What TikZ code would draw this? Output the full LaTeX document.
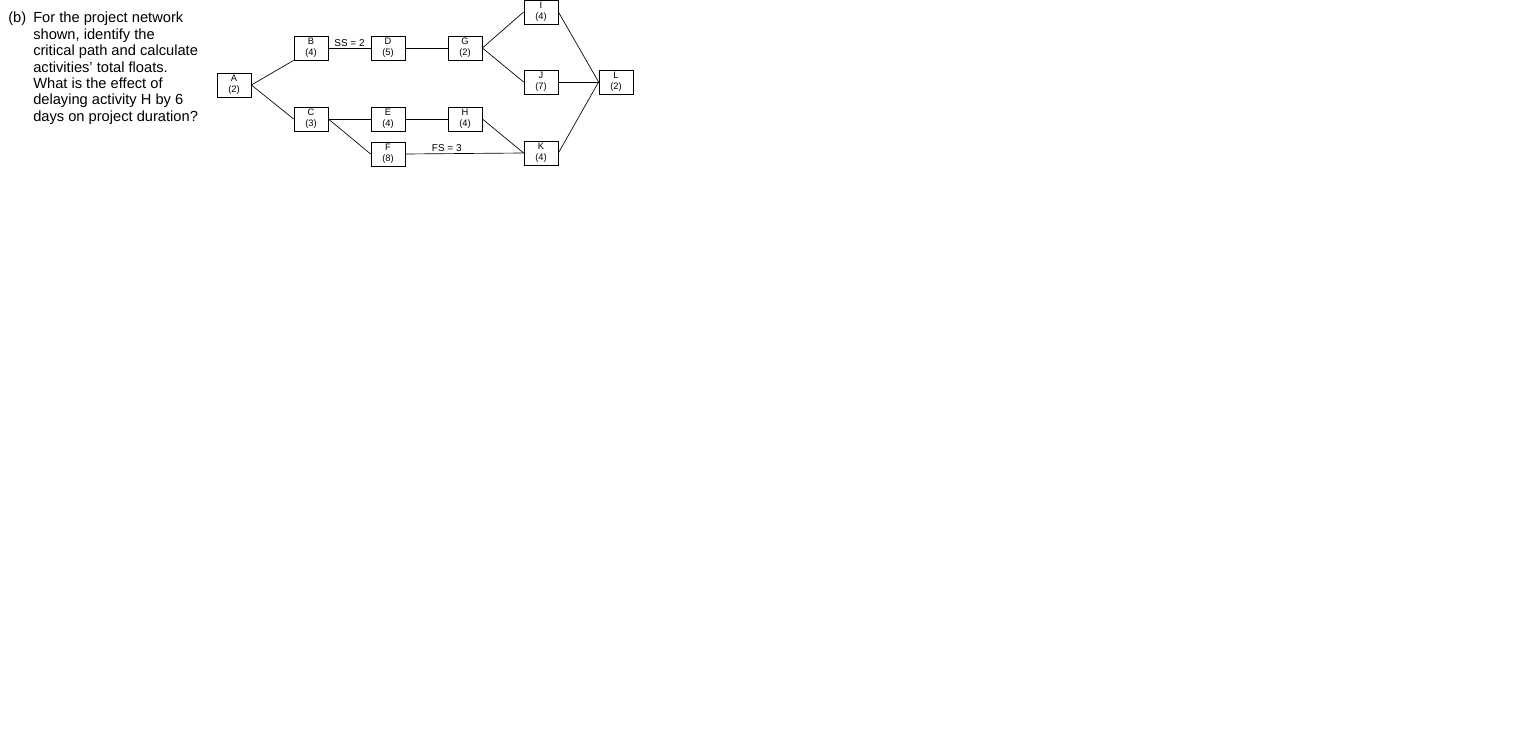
\documentclass[tikz,border=0pt]{standalone}
\usepackage{fontspec}
\setmainfont{Liberation Sans}
\tikzset{
  act/.style={draw, line width=0.6pt, minimum width=25.5pt, minimum height=18pt, inner sep=0pt, align=center, font=\fontsize{7}{8.2}\selectfont},
  lnk/.style={line width=0.5pt},
  lag/.style={font=\fontsize{7.5}{9}\selectfont, inner sep=1pt}
}
\begin{document}
\begin{tikzpicture}[x=0.75pt,y=0.75pt,yscale=-1,xscale=1]
\useasboundingbox (0,0) rectangle (1532,755);

% Text Node
\node (qlabel) [anchor=north west, inner sep=0, font=\fontsize{11}{12.3}\selectfont] at (8,12) {(b)};
% Text Node
\node (qtext) [anchor=north west, inner sep=0, align=left, font=\fontsize{11}{12.3}\selectfont] at (33,12) {For the project network\\shown, identify the\\critical path and calculate\\activities' total floats.\\What is the effect of\\delaying activity H by 6\\days on project duration?};

%Shape: Rectangle [activities]
\node (A) [act] at (234,85) {A\\(2)};
\node (B) [act] at (311,48) {B\\(4)};
\node (C) [act] at (311,119) {C\\(3)};
\node (D) [act] at (388,48) {D\\(5)};
\node (E) [act] at (388,119) {E\\(4)};
\node (F) [act] at (388,154) {F\\(8)};
\node (G) [act] at (465,48) {G\\(2)};
\node (H) [act] at (465,119) {H\\(4)};
\node (I) [act] at (541,12) {I\\(4)};
\node (J) [act] at (541,82) {J\\(7)};
\node (K) [act] at (541,153) {K\\(4)};
\node (L) [act] at (616,82) {L\\(2)};

%Straight Lines
\draw [lnk] (A.east) -- (B.south west);
\draw [lnk] (A.east) -- (C.west);
\draw [lnk] (B.east) -- node [lag, above] {SS = 2} (D.west);
\draw [lnk] (D.east) -- (G.west);
\draw [lnk] (C.east) -- (E.west);
\draw [lnk] (C.east) -- (F.west);
\draw [lnk] (E.east) -- (H.west);
\draw [lnk] (F.east) -- node [lag, above, pos=0.35] {FS = 3} (K.west);
\draw [lnk] (G.east) -- (I.west);
\draw [lnk] (G.east) -- (J.west);
\draw [lnk] (H.east) -- (K.west);
\draw [lnk] (I.east) -- (L.west);
\draw [lnk] (J.east) -- (L.west);
\draw [lnk] (K.east) -- (L.west);

\end{tikzpicture}
\end{document}
